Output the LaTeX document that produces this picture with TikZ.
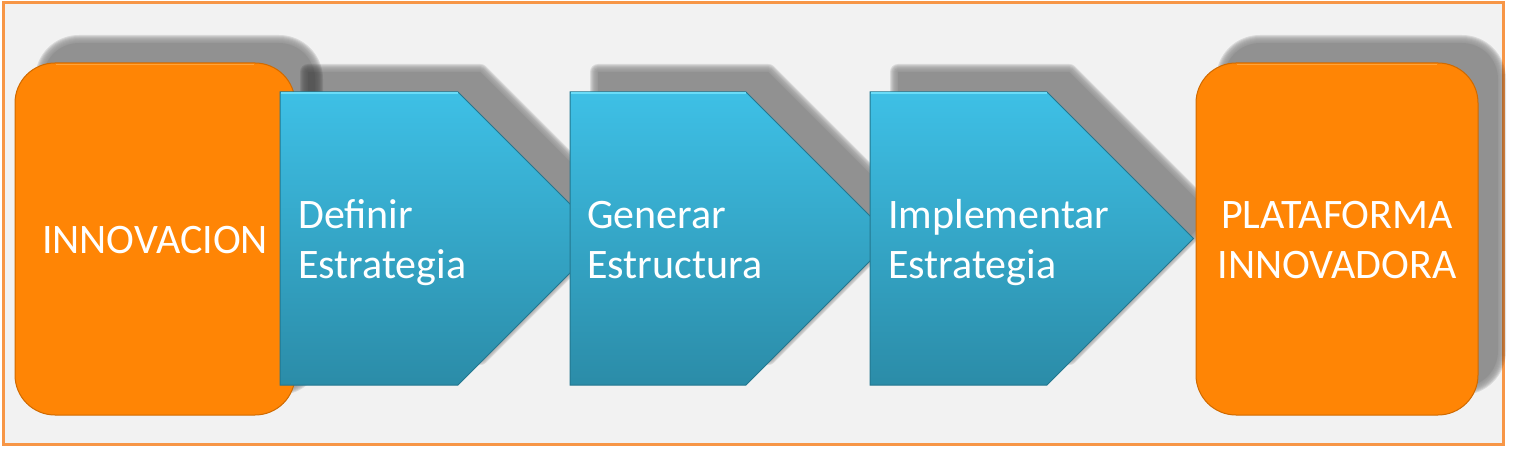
\documentclass[tikz,border=0pt]{standalone}
\usepackage{fontspec}
\setmainfont{Carlito}
\definecolor{bg}{HTML}{F2F2F2}
\definecolor{frameor}{HTML}{F79646}
\definecolor{boxor}{HTML}{FF8505}
\definecolor{boxedge}{HTML}{D06A00}
\definecolor{boxhi}{HTML}{FFA43A}
\definecolor{bluetop}{HTML}{3EC0E6}
\definecolor{bluebot}{HTML}{2B8CA8}
\definecolor{blueedge}{HTML}{23778F}
\definecolor{bluehi}{HTML}{6ADCF8}
\newcommand\mysoftshadow[1]{%
  \begin{scope}[transparency group, opacity=0.4]
    \fill[black] #1;
    \foreach \w in {2,4,...,16} {\draw[black, opacity=0.25, line width=\w pt, line join=round] #1;}
  \end{scope}}
\begin{document}
\begin{tikzpicture}[x=1pt,y=-1pt,
  obox/.style={fill=boxor, draw=boxedge, line width=1pt, rounded corners=40pt},
  chev/.style={top color=bluetop, bottom color=bluebot, draw=blueedge, line width=1pt},
  lbl/.style={text=white, font=\fontsize{42}{50}\selectfont, inner sep=0pt, align=left, anchor=base west},
  clbl/.style={text=white, font=\fontsize{42}{50}\selectfont, inner sep=0pt, align=center, anchor=base}
]
\path[use as bounding box, fill=white] (0,0) rectangle (1518,449);
\draw[frameor, line width=3pt, fill=bg] (3,3) rectangle (1503,444);

% left box
\mysoftshadow{[rounded corners=36pt] (43,43) rectangle (315,387)}
\path[obox] (15,63) rectangle (295,415);
\draw[boxhi, line width=1.2pt] (56,64.5) -- (254,64.5);
\node[clbl] (innov) at (155,253) {INNOVACION};

% chevron 1
\mysoftshadow{(308,72) -- (480.34,72) -- (622.84,214.5) -- (480.34,357) -- (308,357) -- cycle}
\path[chev] (280,92) -- (458,92) -- (604.5,238.5) -- (458,385) -- (280,385) -- cycle;
\draw[bluehi, line width=1.5pt] (281,93) -- (458,93);
\node[lbl] (def) at (298,278) {Definir\\Estrategia};

% chevron 2
\mysoftshadow{(598,72) -- (768.34,72) -- (910.84,214.5) -- (768.34,357) -- (598,357) -- cycle}
\path[chev] (570,92) -- (746,92) -- (892.5,238.5) -- (746,385) -- (570,385) -- cycle;
\draw[bluehi, line width=1.5pt] (571,93) -- (746,93);
\node[lbl] (gen) at (587,278) {Generar\\Estructura};

% chevron 3
\mysoftshadow{(898,72) -- (1069.34,72) -- (1211.84,214.5) -- (1069.34,357) -- (898,357) -- cycle}
\path[chev] (870,92) -- (1047,92) -- (1193.5,238.5) -- (1047,385) -- (870,385) -- cycle;
\draw[bluehi, line width=1.5pt] (871,93) -- (1047,93);
\node[lbl] (imp) at (888,278) {Implementar\\Estrategia};

% right box
\mysoftshadow{[rounded corners=36pt] (1224,43) rectangle (1498,387)}
\path[obox] (1196,63) rectangle (1478,415);
\draw[boxhi, line width=1.2pt] (1237,64.5) -- (1437,64.5);
\node[clbl] (plat) at (1337,278) {PLATAFORMA\\INNOVADORA};
\end{tikzpicture}
\end{document}
